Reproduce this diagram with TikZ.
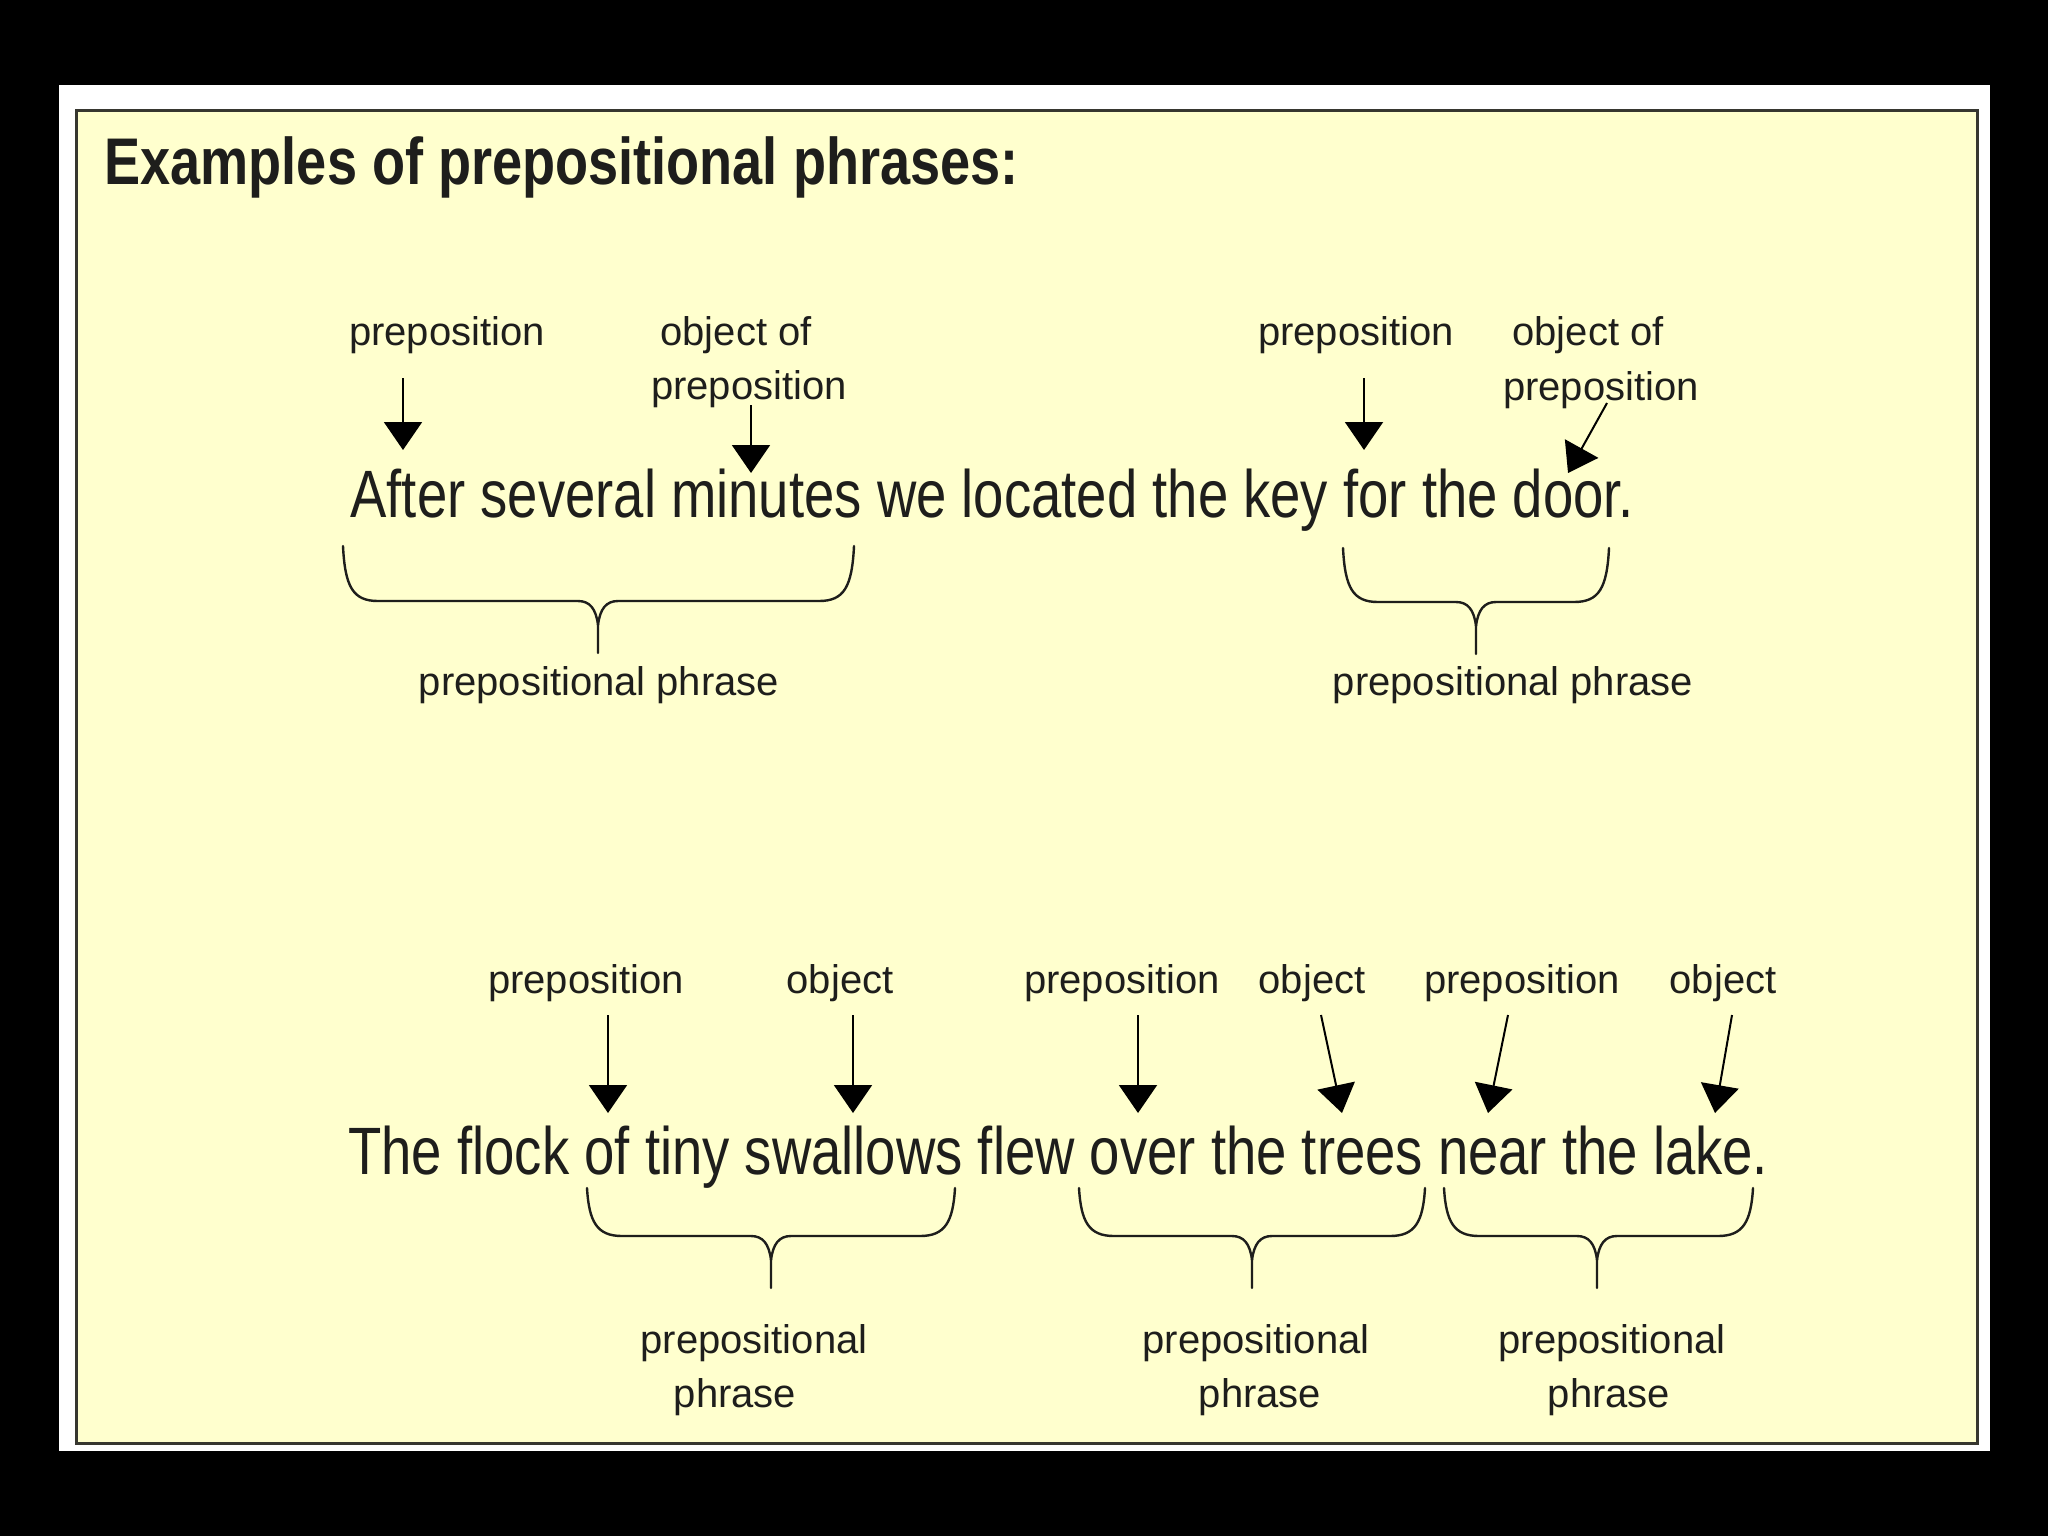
\documentclass[tikz,border=0pt]{standalone}
\usepackage{fontspec}
\setmainfont{Liberation Sans}
\newfontfamily\titlefont[FakeStretch=0.82]{Liberation Sans}
\newfontfamily\sentfont[FakeStretch=0.813]{Liberation Sans}
\newfontfamily\labfont{Liberation Sans}
\usetikzlibrary{arrows.meta}
\definecolor{paper}{RGB}{255,255,206}
\definecolor{ink}{RGB}{30,30,28}
\definecolor{frame}{RGB}{55,55,48}
\tikzset{
  lab/.style={font=\labfont\fontsize{20}{24}\selectfont, text=ink, inner sep=0pt, anchor=base},
  sent/.style={font=\sentfont\fontsize{33.5}{40}\selectfont, text=ink, inner sep=0pt, anchor=base west},
  ttl/.style={font=\titlefont\bfseries\fontsize{33}{40}\selectfont, text=ink, inner sep=0pt, anchor=base west},
  arr/.style={draw=black, line width=1pt, -{Triangle[width=19pt,length=14pt]}},
  brc/.style={draw=ink, line width=1.2pt, line join=round, line cap=round},
}
\newcommand\ppbrace[5]{% x1, x2, xm, ytop, yh
  \draw[brc] (#1,#4) .. controls (#1+2,#5-14) and (#1+10,#5) .. (#1+35,#5) -- (#3-20,#5) .. controls (#3-8,#5) and (#3-2,#5+8) .. (#3,#5+24) -- (#3,#5+52);
  \draw[brc] (#2,#4) .. controls (#2-2,#5-14) and (#2-10,#5) .. (#2-35,#5) -- (#3+20,#5) .. controls (#3+8,#5) and (#3+2,#5+8) .. (#3,#5+24);
}
\begin{document}
\begin{tikzpicture}[x=0.5pt,y=-0.5pt]
\useasboundingbox (0,0) rectangle (2048,1536);
\fill[black] (0,0) rectangle (2048,1536);
\fill[white] (59,85) rectangle (1990,1451);
\filldraw[fill=paper, draw=frame, line width=1.5pt] (76,111) rectangle (1977,1443);

\node[ttl] (title) at (104,184) {Examples of prepositional phrases:};

% ---- sentence 1
\node[sent] (s1) at (350,517) {After several minutes we located the key for the door.};
\node[lab] (l1) at (447,345) {preposition};
\node[lab] (l2a) at (736,345) {object of};
\node[lab] (l2b) at (749,399) {preposition};
\node[lab] (l3) at (1356,345) {preposition};
\node[lab] (l4a) at (1588,345) {object of};
\node[lab] (l4b) at (1601,400) {preposition};

\coordinate (a1s) at (403,378);  \coordinate (a1e) at (403,450);
\coordinate (a2s) at (751,405);  \coordinate (a2e) at (751,473);
\coordinate (a3s) at (1364,378); \coordinate (a3e) at (1364,450);
\coordinate (a4s) at (1607,403); \coordinate (a4e) at (1568,473);
\draw[arr] (a1s) -- (a1e);
\draw[arr] (a2s) -- (a2e);
\draw[arr] (a3s) -- (a3e);
\draw[arr] (a4s) -- (a4e);

\ppbrace{343}{854}{598}{546}{601}
\ppbrace{1343}{1609}{1476}{548}{602}
\node[lab] (p1) at (599,695) {prepositional phrase};
\node[lab] (p2) at (1513,695) {prepositional phrase};

% ---- sentence 2
\node[sent] (s2) at (348,1174) {The flock of tiny swallows flew over the trees near the lake.};
\node[lab] (m1) at (586,993) {preposition};
\node[lab] (m2) at (840,993) {object};
\node[lab] (m3) at (1122,993) {preposition};
\node[lab] (m4) at (1312,993) {object};
\node[lab] (m5) at (1522,993) {preposition};
\node[lab] (m6) at (1723,993) {object};

\coordinate (b1s) at (608,1015);  \coordinate (b1e) at (608,1113);
\coordinate (b2s) at (853,1015);  \coordinate (b2e) at (853,1113);
\coordinate (b3s) at (1138,1015); \coordinate (b3e) at (1138,1113);
\coordinate (b4s) at (1321,1015); \coordinate (b4e) at (1342,1113);
\coordinate (b5s) at (1508,1015); \coordinate (b5e) at (1488,1113);
\coordinate (b6s) at (1732,1015); \coordinate (b6e) at (1715,1113);
\draw[arr] (b1s) -- (b1e);
\draw[arr] (b2s) -- (b2e);
\draw[arr] (b3s) -- (b3e);
\draw[arr] (b4s) -- (b4e);
\draw[arr] (b5s) -- (b5e);
\draw[arr] (b6s) -- (b6e);

\ppbrace{587}{955}{771}{1188}{1236}
\ppbrace{1079}{1425}{1252}{1188}{1236}
\ppbrace{1444}{1753}{1597}{1188}{1236}

\node[lab] (q1a) at (754,1353) {prepositional};
\node[lab] (q1b) at (735,1407) {phrase};
\node[lab] (q2a) at (1256,1353) {prepositional};
\node[lab] (q2b) at (1260,1407) {phrase};
\node[lab] (q3a) at (1612,1353) {prepositional};
\node[lab] (q3b) at (1609,1407) {phrase};
\end{tikzpicture}
\end{document}
